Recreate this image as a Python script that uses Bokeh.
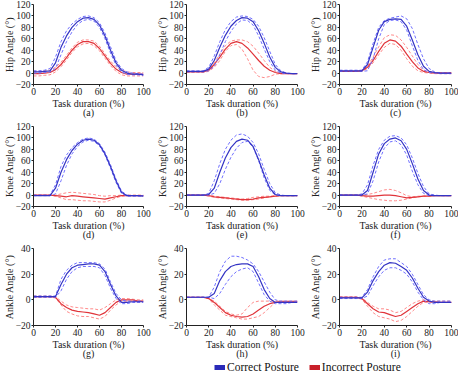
from bokeh.plotting import figure
from bokeh.layouts import column, row
from bokeh.models import Range1d, FixedTicker, Legend, LegendItem
from bokeh.embed import file_html
from bokeh.resources import INLINE

# Task duration (%) sample points
X = [0, 5, 10, 15, 20, 25, 30, 35, 40, 45, 50, 55, 60, 65, 70, 75, 80, 85, 90, 95, 100]
X_TICKS = [0, 20, 40, 60, 80, 100]
HK_TICKS = [-20, 0, 20, 40, 60, 80, 100, 120]
ANK_TICKS = [-20, 0, 20, 40]
CAPTIONS = ["(a)", "(b)", "(c)", "(d)", "(e)", "(f)", "(g)", "(h)", "(i)"]
Y_LABELS = ["Hip Angle (°)", "Knee Angle (°)", "Ankle Angle (°)"]
X_LABEL = "Task duration (%)"
LEGEND_LABELS = ["Correct Posture", "Incorrect Posture"]

# (a) hip
a_cp = [2, 2, 3, 4, 18, 45, 65, 80, 90, 96, 97, 94, 84, 65, 40, 18, 5, 0, -2, -2, -3]
a_cp_hi = [4, 4, 5, 8, 28, 55, 74, 86, 94, 99, 100, 97, 88, 70, 46, 22, 8, 2, 0, -1, -2]
a_cp_lo = [0, 0, 1, 2, 8, 32, 55, 72, 85, 92, 94, 91, 80, 60, 35, 14, 2, -2, -3, -3, -4]
a_ip = [-1, -1, 0, 1, 6, 15, 27, 40, 50, 55, 55, 52, 43, 30, 17, 7, 1, -2, -2, -2, -2]
a_ip_hi = [3, 3, 4, 5, 10, 19, 31, 44, 54, 58, 58, 56, 47, 34, 21, 11, 5, 2, 1, 1, 1]
a_ip_lo = [-5, -5, -4, -3, 2, 11, 23, 36, 46, 51, 52, 48, 39, 26, 13, 3, -3, -5, -5, -5, -5]
# (b) hip
b_cp = [3, 3, 3, 3, 7, 22, 45, 66, 82, 92, 97, 96, 90, 74, 52, 28, 10, 2, 0, -1, -1]
b_cp_hi = [4, 4, 4, 4, 10, 30, 55, 76, 90, 98, 100, 99, 94, 82, 62, 38, 15, 4, 0, -1, -1]
b_cp_lo = [2, 2, 2, 2, 4, 12, 32, 55, 73, 86, 93, 92, 84, 65, 42, 20, 5, 0, -1, -1, -1]
b_ip = [2, 2, 2, 2, 5, 15, 28, 42, 52, 55, 52, 44, 33, 22, 12, 5, 1, -1, -1, -1, -1]
b_ip_hi = [3, 3, 3, 3, 6, 18, 33, 48, 56, 58, 58, 55, 47, 35, 22, 10, 3, 0, -1, -1, -1]
b_ip_lo = [1, 1, 1, 1, 3, 10, 22, 38, 48, 50, 42, 25, 5, -6, -8, -6, -2, -1, -1, -1, -1]
# (c) hip
c_cp = [4, 4, 4, 4, 4, 15, 45, 75, 90, 94, 95, 94, 82, 58, 32, 12, 3, 1, 0, 0, 0]
c_cp_hi = [5, 5, 5, 5, 5, 20, 52, 80, 92, 96, 98, 100, 95, 78, 50, 25, 8, 2, 0, 0, 0]
c_cp_lo = [3, 3, 3, 3, 3, 4, 25, 60, 85, 92, 93, 90, 75, 48, 22, 6, 1, 0, -1, -1, -1]
c_ip = [3, 3, 3, 3, 4, 10, 22, 38, 52, 58, 56, 47, 33, 20, 9, 3, 1, 0, 0, 0, 0]
c_ip_hi = [3, 3, 3, 3, 5, 12, 28, 46, 62, 67, 66, 58, 45, 30, 15, 5, 2, 1, 1, 1, 1]
c_ip_lo = [3, 3, 3, 3, 3, 8, 18, 32, 45, 52, 50, 40, 25, 12, 4, 1, 0, -1, -1, -1, -1]
# (d) knee
d_cp = [-1, -1, -1, -1, 12, 40, 62, 78, 89, 96, 98, 96, 88, 72, 50, 25, 5, -1, -1, -1, -2]
d_cp_hi = [0, 0, 0, 0, 18, 50, 70, 83, 92, 98, 100, 98, 90, 75, 53, 28, 7, 0, -1, -1, -1]
d_cp_lo = [-1, -1, -1, -1, 2, 25, 52, 72, 85, 93, 96, 94, 86, 70, 47, 22, 3, -2, -2, -2, -2]
d_ip = [0, 0, 0, 0, -1, -2, -3, -1, -2, -3, -4, -5, -6, -7, -5, -3, -1, -1, -1, -1, -1]
d_ip_hi = [0, 0, 0, 0, 0, 2, 4, 5, 4, 3, 2, 1, -1, -2, -1, -1, 0, 0, 0, 0, 0]
d_ip_lo = [0, 0, 0, 0, -2, -5, -8, -8, -9, -10, -10, -11, -12, -12, -9, -5, -2, -1, -1, -1, -1]
# (e) knee
e_cp = [0, 0, 0, 0, 1, 12, 40, 65, 83, 94, 98, 96, 85, 62, 35, 12, 1, -1, -1, -1, -1]
e_cp_hi = [0, 0, 0, 0, 3, 25, 55, 80, 96, 105, 107, 103, 92, 72, 45, 20, 4, 0, -1, -1, -1]
e_cp_lo = [0, 0, 0, 0, 0, 3, 20, 45, 66, 82, 92, 94, 84, 60, 30, 8, 0, -1, -1, -1, -1]
e_ip = [0, 0, 0, 0, -1, -3, -4, -5, -6, -7, -8, -8, -7, -5, -4, -3, -2, -1, -1, -1, -1]
e_ip_hi = [0, 0, 0, 0, 0, -2, -3, -4, -5, -6, -7, -6, -4, -3, -2, -2, -1, -1, -1, -1, -1]
e_ip_lo = [0, 0, 0, 0, -2, -4, -5, -6, -7, -8, -9, -9, -8, -7, -5, -3, -2, -1, -1, -1, -1]
# (f) knee
f_cp = [0, 0, 0, 0, 0, 8, 40, 72, 90, 98, 100, 95, 80, 55, 28, 8, 0, -1, -1, -1, -1]
f_cp_hi = [0, 0, 0, 0, 2, 18, 52, 80, 96, 103, 104, 100, 88, 65, 38, 15, 2, 0, -1, -1, -1]
f_cp_lo = [0, 0, 0, 0, 0, 2, 25, 58, 82, 93, 95, 88, 70, 42, 18, 3, -1, -1, -1, -1, -1]
f_ip = [0, 0, 0, 0, -1, -2, -2, -1, 0, 0, -1, -3, -5, -4, -3, -2, -2, -1, -1, -1, -1]
f_ip_hi = [0, 0, 0, 0, 0, 1, 3, 6, 9, 10, 8, 4, -1, -3, -2, -2, -1, -1, -1, -1, -1]
f_ip_lo = [0, 0, 0, 0, -2, -4, -6, -8, -9, -10, -10, -9, -7, -5, -3, -2, -2, -1, -1, -1, -1]
# (g) ankle
g_cp = [2.5, 2.5, 2.5, 2.5, 2.5, 12, 20, 25, 27, 27.5, 28, 28, 27, 22, 12, 3, -2, -2, -1.5, -1.5, -1.5]
g_cp_hi = [3, 3, 3, 3, 3, 16, 23, 27, 29, 29, 29, 29, 28, 24, 14, 5, 0, -1, -1, -1, -1]
g_cp_lo = [2, 2, 2, 2, 2, 7, 16, 22, 25, 26, 26, 26, 25, 19, 9, 1, -3, -3, -2, -2, -2]
g_ip = [2.5, 2.5, 2.5, 2.5, 2, -3, -6, -8, -9, -9.5, -10, -11, -12, -10, -6, -2, 0, 0, 0, -1, -1]
g_ip_hi = [3, 3, 3, 3, 2.5, -1, -4, -5.5, -6, -6.5, -7, -7, -8, -6, -3, 0, 1, 1, 0.5, 0, 0]
g_ip_lo = [2, 2, 2, 2, 1.5, -4, -9, -11, -12.5, -13, -13, -14, -15, -13, -8, -4, -1, -1, -1, -1, -1]
# (h) ankle
h_cp = [2, 2, 2, 2, 2, 5, 15, 22, 26, 27.5, 28, 28, 26, 18, 8, 1, -2, -2, -2, -2, -2]
h_cp_hi = [2, 2, 2, 2, 2, 10, 22, 30, 34, 34, 33, 31, 28, 22, 14, 6, 0, -1, -1, -1, -1]
h_cp_lo = [2, 2, 2, 2, 2, 1, 5, 12, 18, 22, 24, 25, 22, 13, 4, -1, -3, -3, -3, -2, -2]
h_ip = [2, 2, 2, 2, 1, -2, -6, -10, -12, -13, -13.5, -13, -11, -8, -5, -3, -2, -1.5, -1.5, -1.5, -1.5]
h_ip_hi = [2, 2, 2, 2, 1, -1, -5, -9, -11, -12, -11, -6, -2, -1, -1, -1, -1, -1, -1, -1, -1]
h_ip_lo = [2, 2, 2, 2, 1, -4, -8, -12, -13, -14, -15, -15, -14, -13, -10, -6, -2, -1, -1, -1, -1]
# (i) ankle
i_cp = [1.5, 1.5, 1.5, 1.5, 1.5, 6, 15, 22, 27, 29, 28.5, 26, 23, 17, 9, 2, -1, -2, -2, -2, -2]
i_cp_hi = [2, 2, 2, 2, 2, 8, 18, 26, 31, 32, 32, 29, 26, 20, 12, 4, 0, -1, -1, -1, -1]
i_cp_lo = [1, 1, 1, 1, 1, 3, 11, 18, 23, 25, 25, 23, 20, 14, 6, 0, -3, -3, -2, -2, -2]
i_ip = [2, 2, 2, 2, 1, -3, -7, -9.5, -10, -11.5, -13, -12, -9, -6, -3, -1, -1.5, -1.5, -2, -2, -2]
i_ip_hi = [2.5, 2.5, 2.5, 2.5, 1.5, -2, -5, -7, -7, -8, -10, -9, -6, -3, -1, 0, -1, -1, -1, -1, -1]
i_ip_lo = [1.5, 1.5, 1.5, 1.5, 0.5, -5, -10, -13, -14, -15, -17, -16, -13, -9, -5, -2, -2, -2, -2, -2, -2]

FONT = "Liberation Serif"
BLUE = "#3434c4"
BLUE_D = "#6f6fff"
RED = "#e0343a"
RED_D = "#ff8a8a"
INK = "#222222"

SERIES = [
    (a_cp, a_cp_hi, a_cp_lo, a_ip, a_ip_hi, a_ip_lo),
    (b_cp, b_cp_hi, b_cp_lo, b_ip, b_ip_hi, b_ip_lo),
    (c_cp, c_cp_hi, c_cp_lo, c_ip, c_ip_hi, c_ip_lo),
    (d_cp, d_cp_hi, d_cp_lo, d_ip, d_ip_hi, d_ip_lo),
    (e_cp, e_cp_hi, e_cp_lo, e_ip, e_ip_hi, e_ip_lo),
    (f_cp, f_cp_hi, f_cp_lo, f_ip, f_ip_hi, f_ip_lo),
    (g_cp, g_cp_hi, g_cp_lo, g_ip, g_ip_hi, g_ip_lo),
    (h_cp, h_cp_hi, h_cp_lo, h_ip, h_ip_hi, h_ip_lo),
    (i_cp, i_cp_hi, i_cp_lo, i_ip, i_ip_hi, i_ip_lo),
]

COL_W = [153, 153, 152]
COL_L = [28, 28, 30]
COL_R = [10, 9, 7]
ROW_H = [130, 130, 127]
ROW_T = [4, 4, 4]
ROW_B = [46, 46, 46]
ROW_OVERLAP = [-8, -8, -13]


def panel(k):
    r, c = divmod(k, 3)
    ankle = r == 2
    p = figure(width=COL_W[c], height=ROW_H[r], output_backend="svg",
               toolbar_location=None, tools="",
               x_range=Range1d(0, 100),
               y_range=Range1d(-20, 40) if ankle else Range1d(-20, 120),
               min_border_left=COL_L[c], min_border_right=COL_R[c],
               min_border_top=ROW_T[r], min_border_bottom=ROW_B[r],
               margin=(0, 0, ROW_OVERLAP[r], 0))
    p.outline_line_color = None
    p.border_fill_alpha = 0
    p.xgrid.visible = False
    p.ygrid.visible = False
    p.xaxis.ticker = FixedTicker(ticks=X_TICKS)
    p.yaxis.ticker = FixedTicker(ticks=ANK_TICKS if ankle else HK_TICKS)
    p.xaxis.axis_label = X_LABEL + "\n" + CAPTIONS[k]
    p.yaxis.axis_label = Y_LABELS[r]
    for ax in (p.xaxis[0], p.yaxis[0]):
        ax.major_label_text_font = FONT
        ax.major_label_text_font_size = "9.5px"
        ax.axis_label_text_font = FONT
        ax.axis_label_text_font_size = "10px"
        ax.axis_label_text_font_style = "normal"
        ax.axis_label_text_line_height = 0.85
        ax.major_tick_out = 2
        ax.major_tick_in = 0
        ax.minor_tick_out = 0
        ax.minor_tick_in = 0
        ax.major_label_standoff = 1
        ax.axis_line_color = INK
        ax.major_tick_line_color = INK
        ax.major_label_text_color = INK
        ax.axis_label_text_color = INK
    p.xaxis.axis_label_standoff = 0
    p.yaxis.axis_label_standoff = -2
    cp, cp_hi, cp_lo, ip, ip_hi, ip_lo = SERIES[k]
    p.line(X, ip_hi, line_color=RED_D, line_width=1, line_dash="3 2")
    p.line(X, ip_lo, line_color=RED_D, line_width=1, line_dash="3 2")
    p.line(X, ip, line_color=RED, line_width=1.2)
    p.line(X, cp_hi, line_color=BLUE_D, line_width=1, line_dash="3 2")
    p.line(X, cp_lo, line_color=BLUE_D, line_width=1, line_dash="3 2")
    p.line(X, cp, line_color=BLUE, line_width=1.2)
    return p


panels = [panel(k) for k in range(9)]

leg = figure(width=458, height=14, output_backend="svg", toolbar_location=None,
             tools="", x_range=Range1d(0, 1), y_range=Range1d(200, 201),
             min_border=0, min_border_left=0, min_border_right=0,
             min_border_top=0, min_border_bottom=0)
leg.axis.visible = False
leg.grid.visible = False
leg.outline_line_color = None
leg.border_fill_alpha = 0
leg.background_fill_alpha = 0
# legend proxies: drawn outside the visible range of this strip
r_cp = leg.line(X, a_cp, line_color="#2a2ab8", line_width=5)
r_ip = leg.line(X, a_ip, line_color="#c8202a", line_width=5)
legend = Legend(items=[LegendItem(label=LEGEND_LABELS[0], renderers=[r_cp]),
                       LegendItem(label=LEGEND_LABELS[1], renderers=[r_ip])],
                orientation="horizontal", location=(214, -2),
                label_text_font=FONT, label_text_font_size="11.5px",
                label_text_color="#111111",
                glyph_width=11, glyph_height=14, label_standoff=2,
                label_height=14,
                spacing=10, padding=0, margin=0,
                border_line_color=None, background_fill_alpha=0)
leg.add_layout(legend, "center")

rows = [row(panels[3 * r], panels[3 * r + 1], panels[3 * r + 2]) for r in range(3)]
layout = column(*rows, leg)

open("out.html", "w").write(file_html(layout, INLINE))
